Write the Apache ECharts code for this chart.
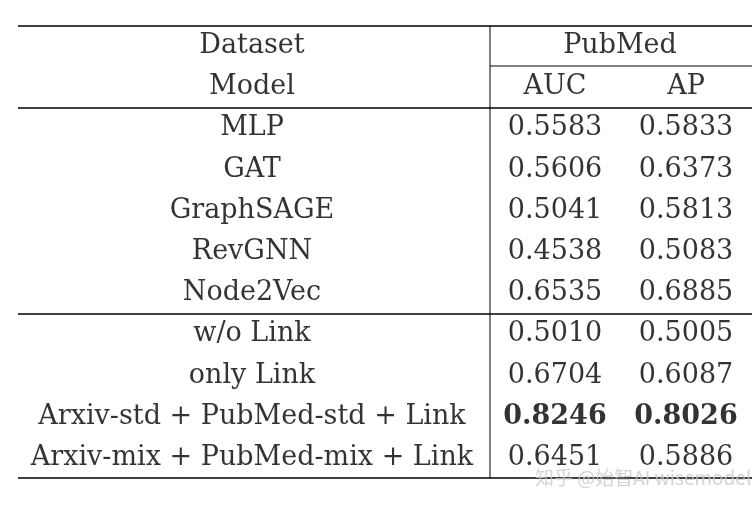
<!DOCTYPE html>
<html><head><meta charset="utf-8">
<script src="https://cdn.jsdelivr.net/npm/echarts@6/dist/echarts.min.js"></script>
<style>html,body{margin:0;padding:0;background:#fff}#c{width:754px;height:510px}</style>
</head><body><div id="c"></div>
<script>
const models = ['MLP','GAT','GraphSAGE','RevGNN','Node2Vec','w/o Link','only Link','Arxiv-std + PubMed-std + Link','Arxiv-mix + PubMed-mix + Link'];
const auc = ['0.5583','0.5606','0.5041','0.4538','0.6535','0.5010','0.6704','0.8246','0.6451'];
const ap  = ['0.5833','0.6373','0.5813','0.5083','0.6885','0.5005','0.6087','0.8026','0.5886'];
const boldRow = 7;

// layout
const colX = {model:252, auc:555, ap:686, pub:620};
const rowY = i => 46 + 41.2*i;
const font = '"DejaVu Serif", serif';

let pts = [];
pts.push({value:[colX.model,rowY(0)],name:'Dataset'});
pts.push({value:[colX.pub,rowY(0)],name:'PubMed'});
pts.push({value:[colX.model,rowY(1)],name:'Model'});
pts.push({value:[colX.auc,rowY(1)],name:'AUC'});
pts.push({value:[colX.ap,rowY(1)],name:'AP'});
models.forEach((m,i)=>{
  const b = i===boldRow ? 'bold' : 'normal';
  pts.push({value:[colX.model,rowY(i+2)],name:m});
  pts.push({value:[colX.auc,rowY(i+2)],name:auc[i],label:{fontWeight:b}});
  pts.push({value:[colX.ap,rowY(i+2)],name:ap[i],label:{fontWeight:b}});
});

const chart = echarts.init(document.getElementById('c'));
const hl = (x1,x2,y,w)=>({type:'line',shape:{x1,y1:y,x2,y2:y},style:{stroke:'#000',lineWidth:w||1.3}});
chart.setOption({
  animation:false,
  grid:{left:0,right:0,top:0,bottom:0},
  xAxis:{type:'value',min:0,max:754,show:false},
  yAxis:{type:'value',min:0,max:510,inverse:true,show:false},
  series:[{
    type:'scatter',symbolSize:0,data:pts,
    label:{show:true,position:'inside',formatter:p=>p.name,color:'#000',fontSize:27,fontFamily:font}
  }],
  graphic:[
    hl(18,752,26),
    hl(490,752,66,1),
    hl(18,752,108),
    hl(18,752,314),
    hl(18,752,478),
    {type:'line',shape:{x1:490,y1:26,x2:490,y2:478},style:{stroke:'#000',lineWidth:1}},
    {type:'text',left:535,top:468,style:{text:'知乎 @始智AI wisemodel',fill:'rgba(200,200,200,0.8)',font:'19px "Noto Sans CJK SC", sans-serif'}}
  ]
});
</script></body></html>
